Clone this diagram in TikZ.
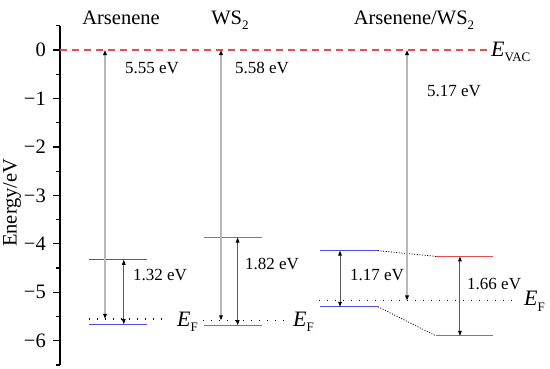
\documentclass[tikz,border=0pt]{standalone}
\usepackage{fontspec}
\setmainfont{Liberation Serif}
\usepackage{xcolor}
\usetikzlibrary{arrows.meta,positioning,calc}
\definecolor{rojo}{HTML}{E84C4C}
\definecolor{azul}{HTML}{4C4CE0}
\definecolor{grisclaro}{HTML}{B8B8B8}
\definecolor{grisoscuro}{HTML}{5A5A5A}
\newcommand{\subind}[1]{\raisebox{-0.55ex}{\fontsize{13}{13}\selectfont #1}}
\newcommand{\Ef}{\textit{E}\subind{F}}

\begin{document}
\begin{tikzpicture}[x=1pt,y=48.45pt,
  texto/.style={inner sep=0pt,font=\fontsize{20.5}{24}\selectfont},
  valor/.style={inner sep=0pt,anchor=base west,font=\fontsize{17}{20}\selectfont},
  simbolo/.style={inner sep=0pt,anchor=base west,font=\fontsize{22}{26}\selectfont},
  nivelazul/.style={draw=azul,line width=1pt},
  nivelrojo/.style={draw=rojo,line width=1pt},
  vacio/.style={draw=rojo,line width=1.8pt,dash pattern=on 7pt off 5pt},
  fermi/.style={draw=black,line width=1.4pt,dash pattern=on 1.4pt off 6.6pt},
  union/.style={draw=black,line width=0.8pt,dash pattern=on 1pt off 1.6pt},
  punta/.style={{Triangle[length=5pt,width=3.6pt,color=black]}-{Triangle[length=5pt,width=3.6pt,color=black]}},
  flechawf/.style={punta,draw=grisclaro,line width=1.3pt},
  flechagap/.style={punta,draw=grisoscuro,line width=0.9pt}
]
\useasboundingbox (0,1.032) rectangle (550,-6.584);

\draw[line width=1.2pt] (60,0.5) -- (60,-6.5);
\foreach \e in {0,...,6}
  \draw[line width=1.2pt] (60,-\e) -- ++(-7,0);
\foreach \e in {0.5,-0.5,...,-6.5}
  \draw[line width=1.2pt] (60,\e) -- ++(-4,0);
\node[texto,anchor=east] (t0) at (46,0) {0};
\foreach \e in {1,...,6}
  \node[texto,anchor=east] (t\e) at (46,-\e) {−\e};
\node[texto,rotate=90] (ylabel) at (12,-3.15) {Energy/eV};

\node[texto,anchor=base] (arsenene) at (121,0.536) {Arsenene};
\node[texto,anchor=base] (ws) at (230,0.536) {WS\subind{2}};
\node[texto,anchor=base] (hetero) at (414,0.536) {Arsenene/WS\subind{2}};

\coordinate (vacI) at (60,0);
\coordinate (vacD) at (487,0);
\draw[vacio] (vacI) -- (vacD);
\node[simbolo] (evac) at (491,-0.124) {\textit{E}\subind{VAC}};

\coordinate (asCBi) at (89,-4.33);  \coordinate (asCBd) at (147,-4.33);
\coordinate (asVBi) at (89,-5.66);  \coordinate (asVBd) at (147,-5.66);
\coordinate (wsCBi) at (204,-3.87); \coordinate (wsCBd) at (262,-3.87);
\coordinate (wsVBi) at (204,-5.68); \coordinate (wsVBd) at (262,-5.68);
\coordinate (haCBi) at (320,-4.14); \coordinate (haCBd) at (378,-4.14);
\coordinate (haVBi) at (320,-5.30); \coordinate (haVBd) at (378,-5.30);
\coordinate (hwCBi) at (436,-4.26); \coordinate (hwCBd) at (493,-4.26);
\coordinate (hwVBi) at (436,-5.90); \coordinate (hwVBd) at (493,-5.90);
\draw[nivelazul] (asCBi) -- (asCBd);
\draw[nivelazul] (asVBi) -- (asVBd);
\draw[nivelrojo] (wsCBi) -- (wsCBd);
\draw[nivelrojo] (wsVBi) -- (wsVBd);
\draw[nivelazul] (haCBi) -- (haCBd);
\draw[nivelazul] (haVBi) -- (haVBd);
\draw[nivelrojo] (hwCBi) -- (hwCBd);
\draw[nivelrojo] (hwVBi) -- (hwVBd);
\draw[union] (haCBd) -- (hwCBi);
\draw[union] (haVBd) -- (hwVBi);

\coordinate (asFi) at (89,-5.55);  \coordinate (asFd) at (168,-5.55);
\coordinate (wsFi) at (203,-5.58); \coordinate (wsFd) at (290,-5.58);
\coordinate (hFi) at (319,-5.17);  \coordinate (hFd) at (518,-5.17);
\draw[fermi] (asFi) -- (asFd);
\draw[fermi] (wsFi) -- (wsFd);
\draw[fermi] (hFi) -- (hFd);
\node[simbolo] (ef1) at (177,-5.7) {\Ef};
\node[simbolo] (ef2) at (293,-5.7) {\Ef};
\node[simbolo] (ef3) at (524,-5.28) {\Ef};

\draw[flechawf] (105,0) -- (105,-5.55);
\draw[flechawf] (221,0) -- (221,-5.58);
\draw[flechawf] (407,0) -- (407,-5.17);
\node[valor] (wfAs) at (125,-0.495) {5.55 eV};
\node[valor] (wfWS) at (235,-0.495) {5.58 eV};
\node[valor] (wfH) at (427,-0.96) {5.17 eV};

\draw[flechagap] ($(asCBi)!0.6!(asCBd)$) -- ($(asVBi)!0.6!(asVBd)$);
\draw[flechagap] ($(wsCBi)!0.58!(wsCBd)$) -- ($(wsVBi)!0.58!(wsVBd)$);
\draw[flechagap] ($(haCBi)!0.345!(haCBd)$) -- ($(haVBi)!0.345!(haVBd)$);
\draw[flechagap] ($(hwCBi)!0.42!(hwCBd)$) -- ($(hwVBi)!0.42!(hwVBd)$);
\node[valor] (gAs) at (133,-4.75) {1.32 eV};
\node[valor] (gWS) at (245,-4.54) {1.82 eV};
\node[valor] (gHa) at (350,-4.76) {1.17 eV};
\node[valor] (gHw) at (467,-4.94) {1.66 eV};
\end{tikzpicture}
\end{document}
